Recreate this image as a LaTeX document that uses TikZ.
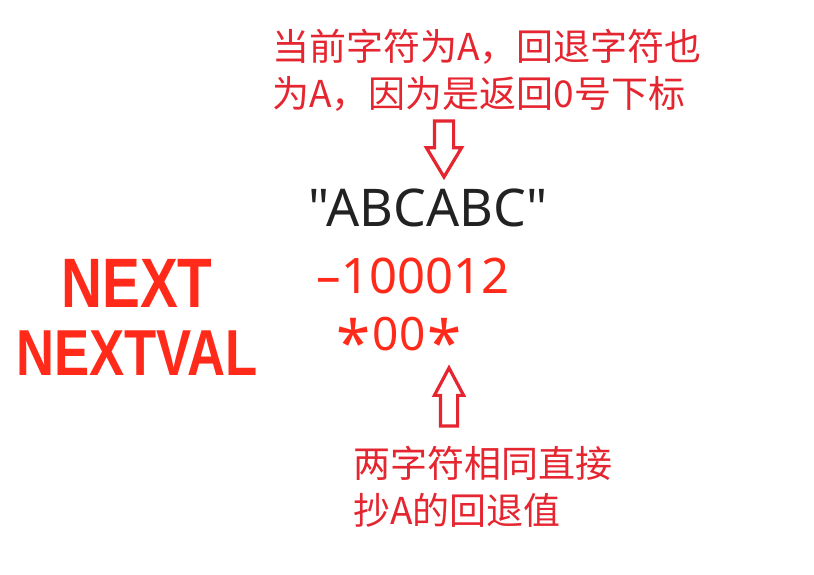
\documentclass[tikz,border=0pt]{standalone}
\usepackage{fontspec}
\setmainfont{Noto Sans}
\newfontfamily\strfont{Noto Sans}
\newfontfamily\cjk{Noto Sans CJK SC}
\newfontfamily\arial{Liberation Sans}
\usetikzlibrary{shapes.arrows}
\definecolor{bg}{HTML}{FFFFFF}
\definecolor{notered}{HTML}{E5252F}
\definecolor{valred}{HTML}{FF2A1A}
\definecolor{strtext}{HTML}{222222}
\tikzset{
  note/.style={text=notered, align=left, inner sep=0pt, font=\cjk\fontsize{37}{47}\selectfont},
  hollow/.style={single arrow, draw=notered, line width=3.2pt, fill=bg, inner xsep=0pt, single arrow head indent=0pt},
  strlab/.style={text=strtext, inner sep=0pt, font=\strfont\fontsize{52}{52}\selectfont},
  vallab/.style={text=valred, inner sep=0pt, font=\fontsize{49}{49}\selectfont},
  rowlab/.style={text=valred, inner sep=0pt}
}
\newcommand\lowstar{\raisebox{-0.33em}{\scalebox{1.35}{\bfseries *}}}

\begin{document}
\begin{tikzpicture}[x=1pt, y=-1pt]
  \fill[bg] (0,0) rectangle (814,575);
  \useasboundingbox (0,0) rectangle (814,575);

  % string and its two arrays
  \node[strlab, anchor=base] (str) at (428,226) {"ABCABC"};
  \node[vallab, anchor=base] (next) at (413,293) {–100012};
  \node[vallab, anchor=base, font=\fontsize{46}{46}\selectfont] (nextval) at (399,350)
    {\lowstar\kern2pt00\kern2pt\lowstar};

  % row names
  \node[rowlab, anchor=base, font=\arial\bfseries\fontsize{70}{70}\selectfont, xscale=0.81] (nextname) at (137,307) {NEXT};
  \node[rowlab, anchor=base, font=\arial\bfseries\fontsize{65}{65}\selectfont, xscale=0.81] (nvname) at (137,375) {NEXTVAL};

  % notes
  \node[note, anchor=base west] (topnote) at (272,108) {当前字符为A，回退字符也\\为A，因为是返回0号下标};
  \node[note, anchor=base west] (botnote) at (353,524) {两字符相同直接\\抄A的回退值};

  % hollow arrows
  \node[hollow, rotate=-90, minimum height=56, inner ysep=8pt, single arrow head extend=8, single arrow tip angle=62] (down) at (444,141) {};
  \node[hollow, rotate=90, minimum height=58, inner ysep=7pt, single arrow head extend=6, single arrow tip angle=56] (up) at (449,405) {};
\end{tikzpicture}
\end{document}
